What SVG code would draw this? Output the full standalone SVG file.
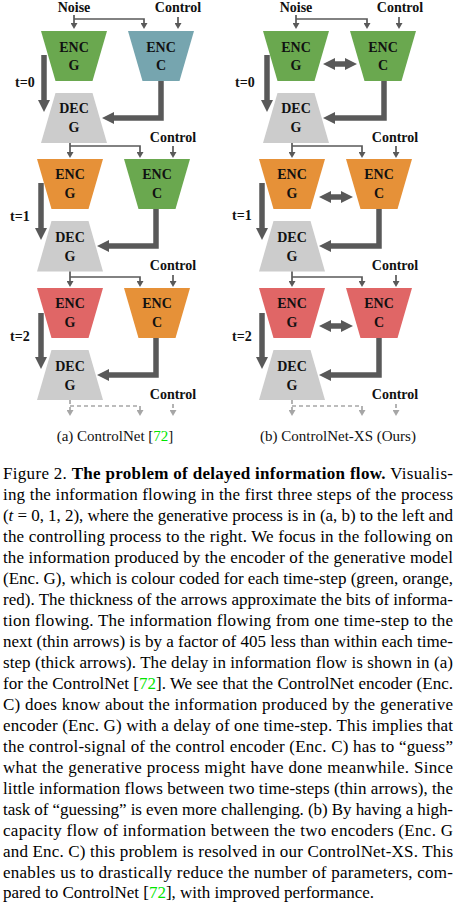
<svg xmlns="http://www.w3.org/2000/svg" width="455" height="904" viewBox="0 0 455 904">
<style>
.lbl{font-family:"Liberation Serif","Times New Roman",serif;font-weight:bold;font-size:14px;fill:#111;text-anchor:middle}
.t{font-family:"Liberation Serif","Times New Roman",serif;font-weight:bold;font-size:14px;fill:#111}
.cap{font-family:"Liberation Serif","Times New Roman",serif;font-size:15px;fill:#111;text-anchor:middle}
.p{font-family:"Liberation Serif","Times New Roman",serif;font-size:17px;fill:#000}
.b{font-weight:bold}
.ref{fill:#00e600}
.green{fill:#6aa84f}.teal{fill:#76a5af}.orange{fill:#e69138}.red{fill:#e06666}.gray{fill:#cccccc}
.thin{fill:none;stroke:#595959;stroke-width:1.7}
.dash{fill:none;stroke:#a6a6a6;stroke-width:1.7;stroke-dasharray:4 3}
.thick{fill:none;stroke:#595959;stroke-width:5.5}
</style>
<defs>
<marker id="ah" markerUnits="userSpaceOnUse" viewBox="0 0 6 7" refX="0.5" refY="3.5" markerWidth="6" markerHeight="7" orient="auto"><path d="M0,0 L6,3.5 L0,7 z" fill="#595959"/></marker>
<marker id="ahl" markerUnits="userSpaceOnUse" viewBox="0 0 6 7" refX="0.5" refY="3.5" markerWidth="6" markerHeight="7" orient="auto"><path d="M0,0 L6,3.5 L0,7 z" fill="#a6a6a6"/></marker>
<marker id="AH" markerUnits="userSpaceOnUse" viewBox="0 0 12 12" refX="1" refY="6" markerWidth="12" markerHeight="12" orient="auto"><path d="M0,0 L12,6 L0,12 z" fill="#595959"/></marker>
<marker id="AHs" markerUnits="userSpaceOnUse" viewBox="0 0 12 12" refX="1" refY="6" markerWidth="12" markerHeight="12" orient="auto-start-reverse"><path d="M0,0 L12,6 L0,12 z" fill="#595959"/></marker>
</defs>
<rect width="455" height="904" fill="#fff"/>

<!-- ===== Left panel (a) ===== -->
<g id="a-row0-encG"><polygon class="green" points="41,31 107,31 92.5,81 55.5,81"/><text class="lbl" x="74" y="52">ENC</text><text class="lbl" x="74" y="70">G</text></g>
<g id="a-row0-encC"><polygon class="teal" points="128,31 194,31 179.5,81 142.5,81"/><text class="lbl" x="161" y="52">ENC</text><text class="lbl" x="161" y="70">C</text></g>
<g id="a-row0-decG"><polygon class="gray" points="55.5,93 92.5,93 107,143 41,143"/><text class="lbl" x="74" y="113">DEC</text><text class="lbl" x="74" y="132">G</text></g>

<g id="a-row1-encG"><polygon class="orange" points="37,159 103,159 88.5,209 51.5,209"/><text class="lbl" x="70" y="179">ENC</text><text class="lbl" x="70" y="198">G</text></g>
<g id="a-row1-encC"><polygon class="green" points="124,159 190,159 175.5,209 138.5,209"/><text class="lbl" x="157" y="179">ENC</text><text class="lbl" x="157" y="198">C</text></g>
<g id="a-row1-decG"><polygon class="gray" points="51.5,221 88.5,221 103,271.5 37,271.5"/><text class="lbl" x="70" y="242">DEC</text><text class="lbl" x="70" y="261">G</text></g>

<g id="a-row2-encG"><polygon class="red" points="37,288 103,288 88.5,338 51.5,338"/><text class="lbl" x="70" y="308">ENC</text><text class="lbl" x="70" y="327">G</text></g>
<g id="a-row2-encC"><polygon class="orange" points="124,288 190,288 175.5,338 138.5,338"/><text class="lbl" x="157" y="308">ENC</text><text class="lbl" x="157" y="327">C</text></g>
<g id="a-row2-decG"><polygon class="gray" points="51.5,350 88.5,350 103,400 37,400"/><text class="lbl" x="70" y="371">DEC</text><text class="lbl" x="70" y="390">G</text></g>

<g id="a-labels">
<text class="lbl" x="74" y="12">Noise</text>
<text class="lbl" x="178" y="12">Control</text>
<text class="lbl" x="173" y="142">Control</text>
<text class="lbl" x="173" y="270">Control</text>
<text class="lbl" x="173" y="399">Control</text>
<text class="t" x="15" y="87">t=0</text>
<text class="t" x="10" y="221">t=1</text>
<text class="t" x="10" y="341">t=2</text>
<text class="cap" x="115" y="441">(a) ControlNet [<tspan class="ref">72</tspan>]</text>
</g>

<!-- ===== Right panel (b) ===== -->
<g id="b-row0-encG"><polygon class="green" points="263,31 329,31 314.5,81 277.5,81"/><text class="lbl" x="296" y="52">ENC</text><text class="lbl" x="296" y="70">G</text></g>
<g id="b-row0-encC"><polygon class="green" points="350,31 416,31 401.5,81 364.5,81"/><text class="lbl" x="383" y="52">ENC</text><text class="lbl" x="383" y="70">C</text></g>
<g id="b-row0-decG"><polygon class="gray" points="277.5,93 314.5,93 329,143 263,143"/><text class="lbl" x="296" y="113">DEC</text><text class="lbl" x="296" y="132">G</text></g>

<g id="b-row1-encG"><polygon class="orange" points="259,159 325,159 310.5,209 273.5,209"/><text class="lbl" x="292" y="179">ENC</text><text class="lbl" x="292" y="198">G</text></g>
<g id="b-row1-encC"><polygon class="orange" points="346,159 412,159 397.5,209 360.5,209"/><text class="lbl" x="379" y="179">ENC</text><text class="lbl" x="379" y="198">C</text></g>
<g id="b-row1-decG"><polygon class="gray" points="273.5,221 310.5,221 325,271.5 259,271.5"/><text class="lbl" x="292" y="242">DEC</text><text class="lbl" x="292" y="261">G</text></g>

<g id="b-row2-encG"><polygon class="red" points="259,288 325,288 310.5,338 273.5,338"/><text class="lbl" x="292" y="308">ENC</text><text class="lbl" x="292" y="327">G</text></g>
<g id="b-row2-encC"><polygon class="red" points="346,288 412,288 397.5,338 360.5,338"/><text class="lbl" x="379" y="308">ENC</text><text class="lbl" x="379" y="327">C</text></g>
<g id="b-row2-decG"><polygon class="gray" points="273.5,350 310.5,350 325,400 259,400"/><text class="lbl" x="292" y="371">DEC</text><text class="lbl" x="292" y="390">G</text></g>

<g id="b-labels">
<text class="lbl" x="296" y="12">Noise</text>
<text class="lbl" x="400" y="12">Control</text>
<text class="lbl" x="395" y="142">Control</text>
<text class="lbl" x="395" y="270">Control</text>
<text class="lbl" x="395" y="399">Control</text>
<text class="t" x="235" y="87">t=0</text>
<text class="t" x="232" y="220">t=1</text>
<text class="t" x="232" y="341">t=2</text>
<text class="cap" x="338" y="441">(b) ControlNet-XS (Ours)</text>
</g>

<!-- ===== Connectors ===== -->
<g id="connectors">
<!-- left -->
<path class="thin" d="M74,15 V23.5" marker-end="url(#ah)"/>
<path class="thin" d="M74,19 H144 V23.5" marker-end="url(#ah)"/>
<path class="thin" d="M178,17 V23.5" marker-end="url(#ah)"/>
<path class="thick" d="M44,55 V101" marker-end="url(#AH)"/>
<path class="thick" d="M161,81 V118 H113" marker-end="url(#AH)"/>
<path class="thin" d="M70,143 V152.5" marker-end="url(#ah)"/>
<path class="thin" d="M70,146 H140 V152.5" marker-end="url(#ah)"/>
<path class="thin" d="M173,146 V152.5" marker-end="url(#ah)"/>
<path class="thick" d="M41,183 V229" marker-end="url(#AH)"/>
<path class="thick" d="M156,209 V246 H108" marker-end="url(#AH)"/>
<path class="thin" d="M70,271.5 V281.5" marker-end="url(#ah)"/>
<path class="thin" d="M70,277 H140 V281.5" marker-end="url(#ah)"/>
<path class="thin" d="M173,275 V281.5" marker-end="url(#ah)"/>
<path class="thick" d="M41,313 V358" marker-end="url(#AH)"/>
<path class="thick" d="M156,338 V375 H108" marker-end="url(#AH)"/>
<path class="dash" d="M70,400 V410.5" marker-end="url(#ahl)"/>
<path class="dash" d="M70,406 H140 V410.5" marker-end="url(#ahl)"/>
<path class="dash" d="M173,404 V410.5" marker-end="url(#ahl)"/>
<!-- right -->
<path class="thin" d="M296,15 V23.5" marker-end="url(#ah)"/>
<path class="thin" d="M296,19 H367 V23.5" marker-end="url(#ah)"/>
<path class="thin" d="M399,17 V23.5" marker-end="url(#ah)"/>
<path class="thick" d="M334,64 H346" marker-start="url(#AHs)" marker-end="url(#AH)"/>
<path class="thick" d="M267,55 V101" marker-end="url(#AH)"/>
<path class="thick" d="M384,81 V118 H334" marker-end="url(#AH)"/>
<path class="thin" d="M292,143 V152.5" marker-end="url(#ah)"/>
<path class="thin" d="M292,146 H362 V152.5" marker-end="url(#ah)"/>
<path class="thin" d="M396,146 V152.5" marker-end="url(#ah)"/>
<path class="thick" d="M330,197 H342" marker-start="url(#AHs)" marker-end="url(#AH)"/>
<path class="thick" d="M262,183 V229" marker-end="url(#AH)"/>
<path class="thick" d="M379,209 V246 H330" marker-end="url(#AH)"/>
<path class="thin" d="M292,271.5 V281.5" marker-end="url(#ah)"/>
<path class="thin" d="M292,277 H362 V281.5" marker-end="url(#ah)"/>
<path class="thin" d="M396,275 V281.5" marker-end="url(#ah)"/>
<path class="thick" d="M330,326 H342" marker-start="url(#AHs)" marker-end="url(#AH)"/>
<path class="thick" d="M262,313 V358" marker-end="url(#AH)"/>
<path class="thick" d="M379,338 V375 H330" marker-end="url(#AH)"/>
<path class="dash" d="M292,400 V410.5" marker-end="url(#ahl)"/>
<path class="dash" d="M292,406 H362 V410.5" marker-end="url(#ahl)"/>
<path class="dash" d="M396,404 V410.5" marker-end="url(#ahl)"/>
</g>

<!-- ===== Caption paragraph ===== -->
<g id="caption" class="p">
<text x="3" y="479" textLength="450" lengthAdjust="spacing">Figure 2.  <tspan class="b">The problem of delayed information flow.</tspan>  Visualis-</text>
<text x="3" y="500" textLength="450" lengthAdjust="spacing">ing the information flowing in the first three steps of the process</text>
<text x="3" y="521" textLength="450" lengthAdjust="spacing">(<tspan font-style="italic">t</tspan> = 0, 1, 2), where the generative process is in (a, b) to the left and</text>
<text x="3" y="542" textLength="450" lengthAdjust="spacing">the controlling process to the right. We focus in the following on</text>
<text x="3" y="563" textLength="450" lengthAdjust="spacing">the information produced by the encoder of the generative model</text>
<text x="3" y="584" textLength="450" lengthAdjust="spacing">(Enc. G), which is colour coded for each time-step (green, orange,</text>
<text x="3" y="605" textLength="450" lengthAdjust="spacing">red). The thickness of the arrows approximate the bits of informa-</text>
<text x="3" y="626" textLength="450" lengthAdjust="spacing">tion flowing. The information flowing from one time-step to the</text>
<text x="3" y="647" textLength="450" lengthAdjust="spacing">next (thin arrows) is by a factor of 405 less than within each time-</text>
<text x="3" y="668" textLength="450" lengthAdjust="spacing">step (thick arrows). The delay in information flow is shown in (a)</text>
<text x="3" y="689" textLength="450" lengthAdjust="spacing">for the ControlNet [<tspan class="ref">72</tspan>]. We see that the ControlNet encoder (Enc.</text>
<text x="3" y="710" textLength="450" lengthAdjust="spacing">C) does know about the information produced by the generative</text>
<text x="3" y="731" textLength="450" lengthAdjust="spacing">encoder (Enc. G) with a delay of one time-step. This implies that</text>
<text x="3" y="752" textLength="450" lengthAdjust="spacing">the control-signal of the control encoder (Enc. C) has to “guess”</text>
<text x="3" y="773" textLength="450" lengthAdjust="spacing">what the generative process might have done meanwhile. Since</text>
<text x="3" y="794" textLength="450" lengthAdjust="spacing">little information flows between two time-steps (thin arrows), the</text>
<text x="3" y="815" textLength="450" lengthAdjust="spacing">task of “guessing” is even more challenging. (b) By having a high-</text>
<text x="3" y="836" textLength="450" lengthAdjust="spacing">capacity flow of information between the two encoders (Enc. G</text>
<text x="3" y="857" textLength="450" lengthAdjust="spacing">and Enc. C) this problem is resolved in our ControlNet-XS. This</text>
<text x="3" y="878" textLength="450" lengthAdjust="spacing">enables us to drastically reduce the number of parameters, com-</text>
<text x="3" y="898">pared to ControlNet [<tspan class="ref">72</tspan>], with improved performance.</text>
</g>
</svg>
